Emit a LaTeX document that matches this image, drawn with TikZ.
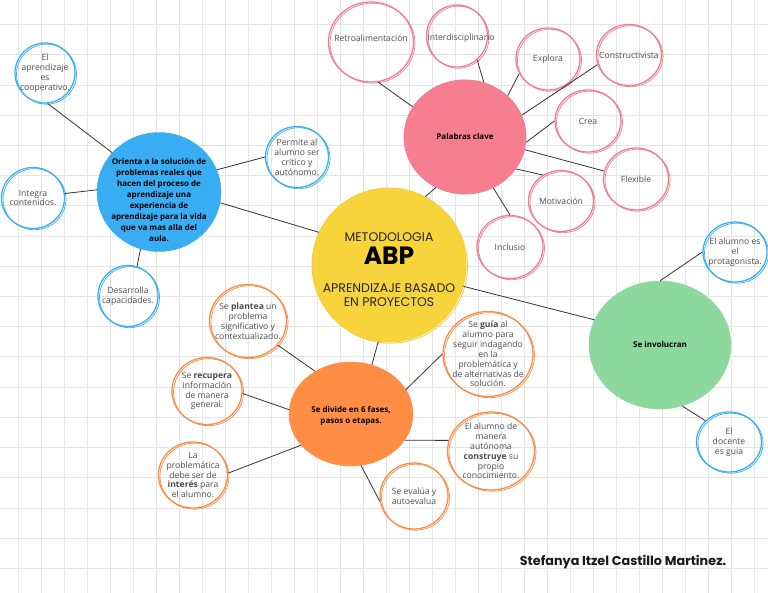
\documentclass[tikz,border=0pt]{standalone}
\usepackage{fontspec}
\setmainfont{Open Sans}
\newfontfamily\popfont{Poppins}
\usetikzlibrary{shapes.geometric}
\definecolor{cblue}{HTML}{3AAEF2}
\definecolor{cbluef}{HTML}{39ADF4}
\definecolor{cpink}{HTML}{F27A90}
\definecolor{cpinkf}{HTML}{F77E91}
\definecolor{cyel}{HTML}{F7D33C}
\definecolor{corg}{HTML}{FB8A45}
\definecolor{corgf}{HTML}{FF8D44}
\definecolor{cgreen}{HTML}{8DD89C}
\definecolor{cgrid}{HTML}{E4E4E4}
\definecolor{txtgray}{HTML}{4D4D4D}
\definecolor{lnk}{HTML}{333333}
\tikzset{
  gridline/.style={draw=cgrid, line width=0.6pt},
  conn/.style={draw=lnk, line width=0.8pt},
  sat/.style 2 args={ellipse, inner sep=0pt, line width=1.25pt, minimum width=#1pt, minimum height=#2pt},
  sk/.style={preaction={draw=#1, line width=0.7pt, transform canvas={shift={(1.5pt,-1.2pt)}}}},
  satb/.style 2 args={sat={#1}{#2}, draw=cblue, sk=cblue},
  satp/.style 2 args={sat={#1}{#2}, draw=cpink, sk=cpink},
  sato/.style 2 args={sat={#1}{#2}, draw=corg, sk=corg},
  hub/.style 2 args={ellipse, inner sep=0pt, minimum width=#1pt, minimum height=#2pt},
  st/.style={align=center, text=txtgray, font=\fontsize{8.6}{9.9}\selectfont, inner sep=0pt},
  bt/.style={align=center, text=black, font=\fontsize{8}{11}\selectfont\bfseries, inner sep=0pt},
  yt/.style={align=center, text=black!85, font=\popfont\fontsize{12.5}{14.5}\selectfont, inner sep=0pt},
}
\begin{document}
\begin{tikzpicture}[x=1pt, y=-1pt]
\useasboundingbox (0,0) rectangle (768,593);
\fill[white] (0,0) rectangle (768,593);
\foreach \i in {0,...,32} \draw[gridline] ({18+23*\i},0) -- ({18+23*\i},593);
\foreach \j in {0,...,18} \draw[gridline] (0,{24.6+30.2*\j}) -- (768,{24.6+30.2*\j});

% hubs
\node[hub={154}{154}, fill=cyel, draw=cyel!90!orange, line width=0.8pt, sk=cyel!85!orange,
  label={[yt, yshift=28pt]center:METODOLOGIA},
  label={[yt, yshift=9pt, font=\popfont\fontsize{25}{27}\selectfont\bfseries, text=black]center:ABP},
  label={[yt, yshift=-30pt]center:APRENDIZAJE BASADO\\EN PROYECTOS}] (abp) at (389,265) {};
\node[hub={124}{119}, fill=cbluef, draw=cbluef,
  label={[bt, yshift=-8pt]center:Orienta a la solución de\\problemas reales que\\hacen del proceso de\\aprendizaje una\\experiencia de\\aprendizaje para la vida\\que va mas alla del\\aula.}] (orienta) at (159,192) {};
\node[hub={122}{114}, fill=cpinkf, draw=cpink, line width=0.8pt, sk=white,
  label={[bt]center:Palabras clave}] (pal) at (465,137) {};
\node[hub={124}{104}, fill=corgf, draw=corgf, sk=white,
  label={[bt, yshift=-2pt]center:Se divide en 6 fases,\\pasos o etapas.}] (fases) at (351,414) {};
\node[hub={142}{128}, fill=cgreen, draw=cgreen, sk=white,
  label={[bt]center:Se involucran}] (invol) at (660,345) {};

% blue satellites
\node[satb={60}{60}, label={[st]center:El\\aprendizaje\\es\\cooperativo.}] (coop) at (45,73) {};
\node[satb={63}{61}, label={[st]center:Integra\\contenidos.}] (integ) at (33,198) {};
\node[satb={60}{61}, label={[st]center:Desarrolla\\capacidades.}] (desarr) at (128,296) {};
\node[satb={63}{61}, label={[st]center:Permite al\\alumno ser\\crítico y\\autónomo.}] (permite) at (297,157) {};
\node[satb={64}{60}, label={[st]center:El alumno es\\el\\protagonista.}] (protag) at (735,252) {};
\node[satb={65}{60}, label={[st]center:El\\docente\\es guia}] (docente) at (729,442) {};

% pink satellites
\node[satp={85}{80}, label={[st, yshift=4pt]center:Retroalimentación}] (retro) at (371,42) {};
\node[satp={61}{62}, label={[st, xshift=4pt, yshift=-2pt]center:Interdisciplinario}] (interd) at (457,36) {};
\node[satp={64}{62}, label={[st]center:Explora}] (explora) at (548,59) {};
\node[satp={65}{61}, label={[st]center:Constructivista}] (constr) at (629,55) {};
\node[satp={66}{62}, label={[st]center:Crea}] (crea) at (588,121) {};
\node[satp={65}{62}, label={[st]center:Flexible}] (flex) at (636,179) {};
\node[satp={65}{61}, label={[st]center:Motivación}] (motiv) at (561,201) {};
\node[satp={66}{63}, label={[st]center:Inclusio}] (inclu) at (510,247) {};

% orange satellites
\node[sato={77}{73}, label={[st]center:Se \textbf{plantea} un\\problema\\significativo y\\contextualizado.}] (plantea) at (248,321) {};
\node[sato={70}{67}, label={[st]center:Se \textbf{recupera}\\información\\de manera\\general.}] (recupera) at (207,391) {};
\node[sato={69}{66}, label={[st]center:La\\problemática\\debe ser de\\\textbf{interés} para\\el alumno.}] (interes) at (193,475) {};
\node[sato={90}{85}, label={[st]center:Se \textbf{guía} al\\alumno para\\seguir indagando\\en la\\problemática y\\de alternativas de\\solución.}] (guia) at (488,354) {};
\node[sato={87}{78}, label={[st]center:El alumno de\\manera\\autónoma\\\textbf{construye} su\\propio\\conocimiento.}] (construye) at (491,451) {};
\node[sato={68}{66}, label={[st]center:Se evalúa y\\autoevalua}] (evalua) at (414,496) {};

% connectors
\draw[conn] (abp.155) -- (orienta.-10);
\draw[conn] (abp.62) -- (pal.240);
\draw[conn] (abp.-16) -- (invol.159);
\draw[conn] (abp.262) -- (fases.67);

\draw[conn] (orienta.140) -- (coop.-85);
\draw[conn] (orienta.178) -- (integ.8);
\draw[conn] (orienta.-108) -- (desarr.73);
\draw[conn] (orienta.21) -- (permite.180);

\draw[conn] (pal.150) -- (retro.-80);
\draw[conn] (pal.71) -- (interd.-50);
\draw[conn] (pal.44) -- (explora.207);
\draw[conn] (pal.21) -- (constr.197);
\draw[conn] (pal.-5) -- (crea.180);
\draw[conn] (pal.-12) -- (flex.166);
\draw[conn] (pal.-32) -- (motiv.125);
\draw[conn] (pal.-61) -- (inclu.90);

\draw[conn] (invol.90) -- (protag.180);
\draw[conn] (invol.-70) -- (docente.138);

\draw[conn] (fases.130) -- (plantea.-39);
\draw[conn] (fases.176) -- (recupera.-4);
\draw[conn] (fases.212) -- (interes.3);
\draw[conn] (fases.24) -- (guia.180);
\draw[conn] (fases.-26) -- (construye.166);
\draw[conn] (fases.-79) -- (evalua.189);

\node[font=\popfont\fontsize{12.8}{14}\selectfont\bfseries, text=black!90, inner sep=0pt] (firma) at (623,562) {Stefanya Itzel Castillo Martinez.};
\end{tikzpicture}
\end{document}
